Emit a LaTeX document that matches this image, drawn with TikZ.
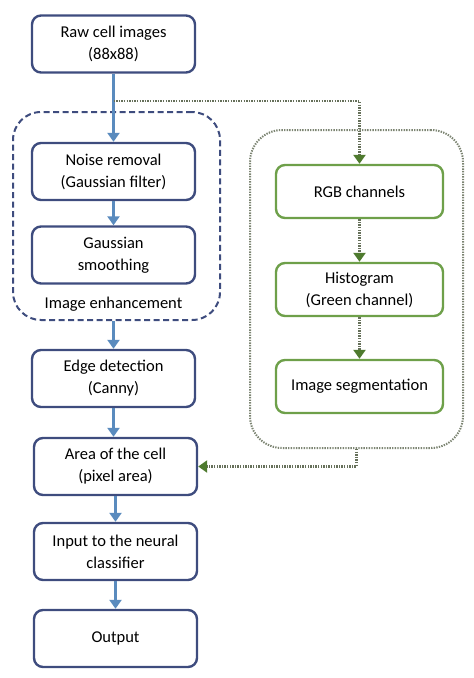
\documentclass[tikz,border=0pt]{standalone}
\usepackage{fontspec}
\setmainfont{Carlito}
\usetikzlibrary{positioning,arrows.meta}

\definecolor{boxnavy}{HTML}{3E4C7E}
\definecolor{flowblue}{HTML}{5A8BBE}
\definecolor{boxgreen}{HTML}{6EA04A}
\definecolor{flowgreen}{HTML}{4E7A2E}
\definecolor{dotgray}{HTML}{66705A}

\begin{document}
\begin{tikzpicture}[
    x=1pt, y=-1pt,
    step box/.style={rectangle, rounded corners=9pt, draw=boxnavy, line width=2.4pt,
      minimum width=163pt, minimum height=57pt, align=center, font=\fontsize{16.5}{22}\selectfont, text=black},
    green box/.style={step box, draw=boxgreen, minimum width=167pt, minimum height=53pt},
    flow/.style={draw=flowblue, line width=2.4pt, -{Triangle[width=12pt,length=9pt]}},
    greenflow/.style={draw=dotgray, line width=2.4pt, dash pattern=on 1.4pt off 1.2pt, -{Triangle[width=12pt,length=9pt,color=flowgreen]}},
    enhgroup/.style={rectangle, rounded corners=28pt, draw=boxnavy, line width=2pt, dash pattern=on 6pt off 3.5pt},
    segroup/.style={rectangle, rounded corners=32pt, draw=dotgray!85, line width=2pt, dash pattern=on 1.4pt off 1.2pt}
  ]
  \useasboundingbox (0,0) rectangle (474,678);

  % groups
  \node[enhgroup, minimum width=207pt, minimum height=208pt] (enh) at (116.5,216) {};
  \node[segroup, minimum width=213pt, minimum height=318pt] (seg) at (356.5,289) {};

  % main column
  \node[step box] (raw) at (113.5,44) {Raw cell images\\(88x88)};
  \node[step box] (noise) at (113.5,171.5) {Noise removal\\(Gaussian filter)};
  \node[step box] (smooth) at (113.5,255) {Gaussian\\smoothing};
  \node[font=\fontsize{16.5}{22}\selectfont] (enhlabel) at (113.5,304) {Image enhancement};
  \node[step box] (edge) at (113.5,378.5) {Edge detection\\(Canny)};
  \node[step box] (area) at (115.5,466.5) {Area of the cell\\(pixel area)};
  \node[step box] (input) at (115.5,551.5) {Input to the neural\\classifier};
  \node[step box] (output) at (115.5,638.5) {Output};

  % green column
  \node[green box] (rgb) at (359.5,191.5) {RGB channels};
  \node[green box] (hist) at (359.5,289.5) {Histogram\\(Green channel)};
  \node[green box] (segm) at (359.5,386.5) {Image segmentation};

  \coordinate (split) at (113.5,101);

  \draw[flow] (raw) -- (noise);
  \draw[flow] (noise) -- (smooth);
  \draw[flow] (enh.south -| edge.north) -- (edge);
  \draw[flow] (edge.south) -- (edge.south |- area.north);
  \draw[flow] (area.south) -- (input);
  \draw[flow] (input) -- (output);

  \draw[greenflow] (split) -| (rgb.north);
  \draw[greenflow] (rgb) -- (hist);
  \draw[greenflow] (hist) -- (segm);
  \draw[greenflow] (seg.south) |- (area.east);
\end{tikzpicture}
\end{document}
